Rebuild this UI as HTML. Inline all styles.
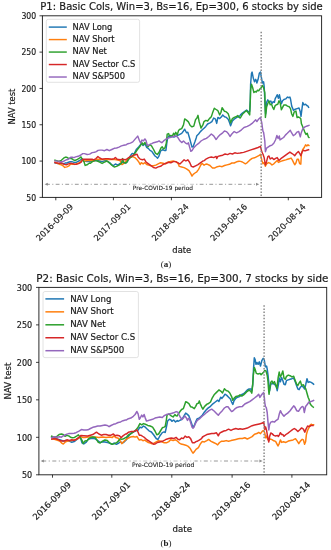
<!DOCTYPE html>
<html><head><meta charset="utf-8"><title>NAV test charts</title>
<style>
html,body{margin:0;padding:0;background:#fff;}
body{width:331px;height:550px;overflow:hidden;}
svg{display:block;}
svg text{font-family:'DejaVu Sans', 'Liberation Sans', sans-serif;fill:#1a1a1a;stroke:#1a1a1a;stroke-width:0.18px;}
</style></head><body>
<svg width="331" height="550" viewBox="0 0 331 550">
<rect width="331" height="550" fill="#fff"/>
<polyline points="55,163 58,163.6 61.7,163.6 64,163.8 65.2,163 66.9,163 68.5,162.2 70.1,161.7 71.8,161.6 74,162.4 76.2,162.4 79.8,160.5 82.2,158.7 84,161.1 87,161.5 90,161.6 93.6,161 97.3,160.4 99.7,161 102.1,161.6 105.7,160.4 108.1,161.6 110.5,163.4 113,165.8 115.4,164 117.8,165.2 120.2,163.4 122.6,162.2 125,163.4 127.5,161.6 128.5,158.8 130.4,155.8 132.2,153.4 134,154 136.5,149.2 138.9,146.8 141.3,143.7 143.1,145.5 144.9,143.7 146.7,147.4 148.5,148.6 150,150.4 151.8,151.3 153.6,154 155,156 156.4,157 157.6,158.2 158.8,156.4 160.6,151 162.4,149.8 164.3,150.4 165.9,150.4 166.8,143.1 167.7,137.7 169,135.9 170.4,136.8 171.8,136.3 173.9,137 176.9,135.8 179.3,134.6 181.7,133.4 183.5,131 184.7,129.2 186.5,132.8 187.8,132.2 189.6,138.2 190.8,142.8 192,147.1 193.2,146.5 195,141.6 196.2,138 196.8,135.8 198.6,134 200.4,131.6 202.3,129.8 204,128.2 205.8,126.4 207.6,124 210,122.8 211.9,121.6 213.7,118 215.5,119.2 216.7,123.4 217.9,117.4 219.7,118.6 221.5,116.8 222.7,114.9 224.5,116.8 226.4,117.4 228.2,119.2 229.4,122.2 230.6,125.8 232.4,121 234.2,119.2 236,118 237.8,116.8 239.6,116.1 240.5,114.9 242.4,113.1 244.8,111.3 246.6,110.1 248.5,111.9 249.7,111.3 250.3,100 250.6,84.2 251.5,73.3 252.1,72.1 253.3,78.1 254.5,81.8 255.7,79.3 256.9,83 258.1,79.3 259.3,73.3 260.5,72.1 261.5,78.1 262.4,83 263.6,81.8 264.2,86.6 264.8,100 265.3,110 265.6,114 266.6,102.3 267.8,99.8 269,102.3 270.8,101 272,103.5 273.2,101.6 274.4,102.3 275.2,98.6 276,97.1 277.2,94.7 278.4,98.3 279.4,94.7 280.2,98.3 281.4,103.7 282.6,100.7 283.9,99.5 285.7,98.9 287.5,97.1 288.7,97.7 289.9,97.1 290.5,98.9 291.7,106.1 293.5,110.4 295.3,109.2 297.1,108.6 299,108 300.2,111.6 301,116.4 302,108.6 302.8,102.5 304,104.9 305.6,104.3 306.8,105.5 308,106.1 308.6,107.4" fill="none" stroke="#1f77b4" stroke-width="1.45" stroke-linejoin="round" stroke-linecap="square"/>
<polyline points="55,162.4 59.3,164.2 61.5,164.8 63.1,165.8 64.7,167.4 66.9,166.9 69,165.8 70.7,163.9 72.5,164.3 76,164 79,163 82.8,160 84.6,161.1 87,160.5 90,160.4 93.6,161 97.3,159.2 100,159.5 105,159.3 110,159.5 115,159.5 120,160.5 122,164.6 123.8,163.4 126,161 128,159.1 130,157.5 132.8,156.6 135.3,157.9 137.1,159.7 138.9,162.1 140.1,164.5 141.3,162.7 143.1,163.9 144.9,162.7 146.7,164.5 148.5,165.1 151,165.7 153.4,165.7 155.8,165.1 158.2,163.9 160.6,162.7 163,163.3 165.5,163.9 166.5,162.8 169.6,161.6 173.3,161 175.7,161.6 178.1,163.4 179.3,166.4 181.7,167 184.1,167.6 186.5,168.8 189,170.6 190.8,173.6 192,176.1 193.2,174.3 195,173 196.8,171.8 198.6,169.4 199.8,167 201,164.6 202.3,163.4 204.1,165.2 206,164 207.6,164.3 210,165.5 212.5,167.9 214.9,167.9 217.3,166.7 219.7,166.1 222.1,166.7 224.5,165.5 227,164.9 229.4,164.3 231.8,163 234.2,163 236.6,161.8 239,161.2 240.5,161.4 242.4,162 245.4,163.8 247.3,162.6 249.7,160.2 252.1,158.4 254.5,157.8 256.9,156.6 259.3,155.4 260.5,154.2 261.8,160.2 263,163.8 264.2,162.6 265.4,166.3 266.6,163.8 268.4,162.6 270.2,163.2 272,165 273.8,163.8 275.6,162 277.2,160.5 278.4,162.4 279.6,161.8 281.4,161.1 283.3,160.5 285.7,159.9 287.5,159.3 289.3,158.7 291.1,158.1 292.3,159.9 293.5,162.4 294.7,164.8 295.9,163 297.1,159.3 298.4,159.3 299.6,163.6 300.8,164.2 301.4,154.5 302.6,149.7 304.4,147.3 305.6,144.8 306.8,146 308,144.8 308.9,145.4" fill="none" stroke="#ff7f0e" stroke-width="1.45" stroke-linejoin="round" stroke-linecap="square"/>
<polyline points="55,160.2 56.5,160.6 58.7,161.4 61.4,160.3 63.6,158.2 65.5,157.1 66.9,157.3 68.5,158.4 70.1,158.2 71.8,158.7 73.4,159.8 75,160.5 77.4,159.3 79.8,157.9 81,156.9 82.2,159.3 84,161.8 85.2,165.4 87,164.8 89.5,163 90.5,163.2 92.4,161.6 94.8,160.4 97.3,161 99.7,162.2 102.1,163.4 104.5,162.2 106.9,161 109.3,162.8 111.8,165.2 114.2,167 116.6,166.4 119,165.2 121.4,163.4 122.6,158.6 123.8,162.8 126.3,162.8 128,160 130.4,157.6 132.8,155.8 135.3,152.8 137.7,149.2 140.1,146.1 141.9,142.5 143.1,144.9 144.9,142.5 146.1,144.3 147.9,146.8 150,144.5 151.8,146.3 153.6,149.5 155.4,153.1 157.3,154.5 159.1,152.2 160.9,148.1 162.2,146.8 163.6,149 165,147.7 166.3,143.1 167.2,134.1 168.6,133.6 169.5,135.9 170.9,135.4 172.2,136.3 173.6,133.2 174.5,135.4 175.8,132.3 177.2,135 178.6,130.4 179.5,129.5 181.7,128.6 183.5,124.9 184.7,118.9 186.5,120.1 188.4,121.9 190.2,125.5 192,126.8 193.8,126.1 195.6,119.5 196.8,118.3 198,115.3 199.2,121.9 201,128 202.9,124.9 204,121.6 205.8,120.4 207.6,121 209.4,118.6 211.3,116.8 212.5,113.1 214.3,108.3 216.1,109.5 217.9,110.7 219.7,114.9 220.9,112.5 222.1,107.7 223.3,109.5 224.5,111.3 226.4,111.9 228.2,113.7 229.4,117.4 230.6,122.8 232.4,118.6 234.2,117.4 236,116.8 237.8,115.5 239,117.4 240.3,118 242.4,114.3 244.8,111.9 246.6,110.7 248.5,113.1 249.7,114.9 250.3,100 250.6,90.2 251.5,84.2 252.7,87.8 253.9,92.6 255.1,91.4 256.3,92 257.5,90.2 258.7,90.8 259.9,89 261.1,87.8 262.4,85.4 263.6,87.8 264.8,92.6 265.1,105 265.4,117.4 266.6,107.1 267.8,103.5 269,101 270.2,104.7 271.4,104.1 272.6,107.1 273.8,109.5 275,105.9 276.3,104.7 277.8,104.3 279,100.7 280.2,103.1 281.4,109.8 282.6,107.4 283.9,104.9 285.7,104.9 287.5,106.1 289.3,106.8 290.5,108.6 291.7,114 292.9,116.4 294.1,112.2 295.9,111 297.1,117.6 298.4,117 299.6,117.6 300.8,118.8 301.4,123.6 302.4,126 303.6,129.1 304.8,132.1 306,134.5 307.2,133.3 308.4,136.9 309,137.5" fill="none" stroke="#2ca02c" stroke-width="1.45" stroke-linejoin="round" stroke-linecap="square"/>
<polyline points="55,162.5 56,162.8 58.7,163.3 61.4,162.8 64.2,164.4 66.3,164.7 68.5,163.9 70.7,163.3 72.9,163.6 74.5,164.4 76.2,164.2 78.6,163.6 81,162.4 82.8,159.3 85.8,159.1 89.5,159.3 92,159.1 93.6,159.8 96,158.6 97.9,156.5 99.7,158 102.1,159.2 105.7,158.6 108.1,158.6 111.8,159.2 114.2,158.6 115.4,157.4 117.2,159.2 120.2,159.8 122.6,159.2 125,159.8 127.5,158.6 128.2,157.9 130.4,156.6 133.4,155.4 135.3,154.8 137.1,154.2 138.3,157.3 140.1,159.1 142.5,159.7 144.3,159.1 146.1,162.1 148.5,163.9 151,165.7 153.4,167.5 155.8,168.1 158.2,166.9 160.6,166.3 163,164.5 165.5,163.3 166.5,163.4 168.4,162.2 170.8,162.8 173.3,161.6 175.7,161.6 178.1,162.8 179.9,164 181.7,162.2 184.1,159.8 185.9,161 187.8,159.8 189.6,162.2 191.4,166.4 193.2,167 195.6,165.8 198,164.6 200.4,162.8 202.9,161 204.2,160.6 206.4,158.8 208.8,157.6 211.3,157 213.7,157.6 216.1,156.4 216.7,158.6 217.9,156.4 220.3,155.8 222.7,155.2 225.1,154 227.6,154.6 230,153.4 232.4,154 234.8,152.8 237.2,153.4 240,153 243.6,152.4 247.3,151.1 250.9,149.9 254.5,148.7 258.1,147.5 260.5,146.3 261.8,151.8 263,154.2 264.2,157.8 265.4,165 266.6,161.4 267.8,156.6 269,156 270.2,159 272,157.8 273.8,159.6 275.6,158.4 277.2,157.6 279,160.5 280.8,158.7 283.3,156.9 285.7,155.1 288.1,153.3 289.9,152.1 291.7,153.3 293.5,154.5 294.7,155.7 296.5,153.3 298.4,151.5 299.6,153.3 300.8,155.7 302,152.1 303.2,150.3 305,150.9 306.8,150.3 308.6,149.7" fill="none" stroke="#d62728" stroke-width="1.45" stroke-linejoin="round" stroke-linecap="square"/>
<polyline points="55,160.9 58.2,161.1 60.4,161.7 63.1,161.7 64.7,160.6 66.3,159.8 68,159.5 69.6,158.4 70.7,157.3 72.3,157.3 74,157.6 75.6,156.9 78.1,156.3 80.9,155 82.7,153.6 84.5,153.6 87.2,154.5 89.7,154.1 92.1,152.6 94.5,152.3 96.3,151.6 98.1,150.4 100,150.1 102.1,150.1 104.5,150.7 106.9,149.5 109.3,150.7 111.8,149.5 114.2,148.3 116.6,148 119,147.1 121.4,145.9 123.8,145.3 126.3,144.7 128,143.7 130.4,143.1 132.8,141.9 135.3,138.9 137.7,136.1 139.5,140.7 140.7,143.1 141.9,140.1 143.7,140.7 144.9,138.9 146.1,140.7 147.3,145.5 149.1,145 150.5,144 151.8,143.6 153.6,142.7 155.4,142.2 157.3,141.8 159.1,140.9 160.4,141.8 161.8,142.7 163.6,140.9 165.4,139.5 167.2,138.6 169,137.7 170.9,137.2 172.7,136.8 174.5,136.3 176.3,135.9 178.1,137.8 179.9,140.8 181.7,142.6 183.5,141 185.3,142.8 187.1,144 188.4,142.8 189.6,147.1 190.8,151.3 192,150.7 193.8,147.7 196.2,145.3 198.6,143.4 201,141 203.5,139.5 206.4,138.3 208.8,136.5 211.3,134 213.7,135.9 216.1,139.5 217.9,137.1 220.3,134.6 222.7,132.8 224.5,131 226.4,131.6 228.2,133.4 230,136.5 231.8,134 234.2,131.6 236.6,132.8 239,131.6 241.5,129.8 244,127.5 247.3,126.4 249.7,125.2 252.1,123.4 254.5,121 255.7,119.8 256.9,121.6 258.1,119.8 259.3,118.6 260.5,117.4 261.8,122.8 262.4,127.6 263,131.3 263.6,132.4 264.8,140.9 265.4,151.8 266.6,148.1 268.4,146.9 270.2,145.7 272,145.1 273.8,143.3 275.6,139.7 276.9,135.4 278.1,138.5 279.3,136 280,139.9 281.8,138.7 283.6,137.5 285.4,135.1 287.3,133.3 289.1,131.5 290.3,130.3 291.5,132.7 293.3,135.7 295.1,134.5 296.9,132.1 298.7,131.5 300.3,136.9 301.1,133.3 302.4,129.7 303.6,127.9 305.4,126.6 307.2,126 309,125.4" fill="none" stroke="#9467bd" stroke-width="1.45" stroke-linejoin="round" stroke-linecap="square"/>
<line x1="261.2" y1="31.85" x2="261.2" y2="197.4" stroke="#8a8a8a" stroke-width="1.5" stroke-dasharray="1.5 1.63"/>
<line x1="46.1" y1="184.3" x2="256.7" y2="184.3" stroke="#8c8c8c" stroke-width="0.9" stroke-dasharray="3.8 2.4 1 2.4"/>
<rect x="131.6" y="182.8" width="64.2" height="3" fill="#fff" fill-opacity="0.45"/>
<path d="M44.6 184.3L47.8 182.8L47.8 185.8Z" fill="#8c8c8c"/>
<path d="M259.2 184.3L256 182.8L256 185.8Z" fill="#8c8c8c"/>
<text x="162.9" y="189.9" font-size="5.85" text-anchor="middle" style="stroke-width:0.08px">Pre-COVID-19 period</text>
<rect x="46.3" y="19.3" width="93.3" height="63" rx="2" ry="2" fill="#fff" fill-opacity="0.85" stroke="#dadada" stroke-width="0.8"/>
<line x1="48.8" y1="27.1" x2="66.8" y2="27.1" stroke="#1f77b4" stroke-width="1.45"/>
<text x="72.5" y="29.5" font-size="8.33">NAV Long</text>
<line x1="48.8" y1="39.58" x2="66.8" y2="39.58" stroke="#ff7f0e" stroke-width="1.45"/>
<text x="72.5" y="41.98" font-size="8.33">NAV Short</text>
<line x1="48.8" y1="52.06" x2="66.8" y2="52.06" stroke="#2ca02c" stroke-width="1.45"/>
<text x="72.5" y="54.46" font-size="8.33">NAV Net</text>
<line x1="48.8" y1="64.54" x2="66.8" y2="64.54" stroke="#d62728" stroke-width="1.45"/>
<text x="72.5" y="66.94" font-size="8.33">NAV Sector C.S</text>
<line x1="48.8" y1="77.02" x2="66.8" y2="77.02" stroke="#9467bd" stroke-width="1.45"/>
<text x="72.5" y="79.42" font-size="8.33">NAV S&amp;P500</text>
<rect x="42.4" y="15.8" width="279.2" height="181.6" fill="none" stroke="#222" stroke-width="0.95"/>
<line x1="39.5" y1="197.4" x2="42.4" y2="197.4" stroke="#000" stroke-width="0.75"/>
<text transform="translate(36.2 200.73) scale(0.93 1)" font-size="8.33" text-anchor="end">50</text>
<line x1="39.5" y1="161.08" x2="42.4" y2="161.08" stroke="#000" stroke-width="0.75"/>
<text transform="translate(36.2 164.41) scale(0.93 1)" font-size="8.33" text-anchor="end">100</text>
<line x1="39.5" y1="124.76" x2="42.4" y2="124.76" stroke="#000" stroke-width="0.75"/>
<text transform="translate(36.2 128.09) scale(0.93 1)" font-size="8.33" text-anchor="end">150</text>
<line x1="39.5" y1="88.44" x2="42.4" y2="88.44" stroke="#000" stroke-width="0.75"/>
<text transform="translate(36.2 91.77) scale(0.93 1)" font-size="8.33" text-anchor="end">200</text>
<line x1="39.5" y1="52.12" x2="42.4" y2="52.12" stroke="#000" stroke-width="0.75"/>
<text transform="translate(36.2 55.45) scale(0.93 1)" font-size="8.33" text-anchor="end">250</text>
<line x1="39.5" y1="15.8" x2="42.4" y2="15.8" stroke="#000" stroke-width="0.75"/>
<text transform="translate(36.2 19.13) scale(0.93 1)" font-size="8.33" text-anchor="end">300</text>
<line x1="55.8" y1="197.4" x2="55.8" y2="200.3" stroke="#000" stroke-width="0.75"/>
<text transform="translate(54.5 222.2) rotate(-45)" x="0" y="3.03" font-size="8.33" text-anchor="middle">2016-09-09</text>
<line x1="113.4" y1="197.4" x2="113.4" y2="200.3" stroke="#000" stroke-width="0.75"/>
<text transform="translate(112.1 222.2) rotate(-45)" x="0" y="3.03" font-size="8.33" text-anchor="middle">2017-09-01</text>
<line x1="171.4" y1="197.4" x2="171.4" y2="200.3" stroke="#000" stroke-width="0.75"/>
<text transform="translate(170.1 222.2) rotate(-45)" x="0" y="3.03" font-size="8.33" text-anchor="middle">2018-08-24</text>
<line x1="229.9" y1="197.4" x2="229.9" y2="200.3" stroke="#000" stroke-width="0.75"/>
<text transform="translate(228.6 222.2) rotate(-45)" x="0" y="3.03" font-size="8.33" text-anchor="middle">2019-08-16</text>
<line x1="288.3" y1="197.4" x2="288.3" y2="200.3" stroke="#000" stroke-width="0.75"/>
<text transform="translate(287 222.2) rotate(-45)" x="0" y="3.03" font-size="8.33" text-anchor="middle">2020-08-14</text>
<text x="181.75" y="252.8" font-size="8.33" text-anchor="middle">date</text>
<text transform="translate(14.7 106.6) rotate(-90)" x="0" y="0" font-size="8.33" text-anchor="middle">NAV test</text>
<text x="181.5" y="10.1" font-size="10" text-anchor="middle">P1: Basic Cols, Win=3, Bs=16, Ep=300, 6 stocks by side</text>
<text x="166" y="266.6" font-size="9" text-anchor="middle" style="font-family:'Liberation Serif', 'DejaVu Serif', serif;stroke:none">(<tspan font-weight="bold">a</tspan>)</text>
<polyline points="51.8,438.6 56,438.6 59.7,439.8 63.3,441 65.7,440.4 69.3,441 71.8,442.2 74.2,441.6 77.8,438.6 80.2,436.8 82,442.8 83.8,444 86.3,442.2 88,439.4 91.6,438.2 95.3,438.8 97.7,440.6 100.1,442.4 103.7,441.8 107.3,442.4 110.4,443.6 112.2,444.3 114,443 116.4,444.3 118.8,443 120.6,441.8 122.4,443 124.3,441.8 126.1,440 128.4,436.3 130.8,433.2 133.3,432 135.7,430.8 138.1,430.2 139.9,427.2 141.7,427.8 143.5,426 145.3,427.2 147.1,429 149,430.8 151.4,432 153.8,435 156.2,438.5 158,439.5 159.8,436 162.3,432.6 164,431.9 165.2,432.5 166.4,427.1 167.6,421 169.4,419.2 170.5,419.6 171.9,421.3 173.7,420 175.5,421.9 177.3,420.6 178,421.3 179.8,420.4 181.6,419.5 183,417.7 184.3,415.4 185.7,413.1 187.1,414.1 188.9,415.9 190.2,419.5 191.6,423.6 192.5,426.3 193.4,427.2 194.3,425.4 195.7,421.8 197,419 198.9,418.1 200.7,416.8 202.5,415 204.3,412.2 206.1,410 208,408.1 210.5,406.3 212.9,403.8 215.3,402 217.7,400.2 218.9,401.4 220.7,397.2 221.9,398.4 223.8,396 225,394.2 226.8,395.4 228.6,397.2 230.4,399 231.6,402 232.8,404.4 234,400.8 235.8,398.4 237.6,397.2 239.5,396.6 241.8,394.5 243.6,393.7 245.4,392 247.3,390 249.1,389 250.9,388.9 251.8,391 252.7,384.7 253,380 253.5,369.2 254.3,357.7 255.1,359.5 256,364.3 256.9,362.5 258.1,364.3 259.3,361.9 260.5,366.1 261.8,360.7 263.2,358.3 264.2,359.5 265.4,366.8 266.6,366.1 267.2,369.2 268,375.2 269,385 269.6,390.7 270.8,384.1 272.6,383.5 274.4,384.1 276.3,386.5 277.2,390.7 278.4,384.7 279.2,378.1 280.4,381.8 281.6,377.5 282.8,380.5 284,384.2 285.3,384.8 286.5,380.5 288.3,379.9 290.1,379.3 291.9,378.7 293.1,378.1 294.3,379.3 295.5,382.4 296.7,386 297.9,389 299.1,389.6 300.4,387.2 301.6,386 303.4,387.2 304.6,389 305.8,384.2 307,378.7 308.2,382.4 309.4,381.8 311.2,382.4 313,383.6 313.6,384.2" fill="none" stroke="#1f77b4" stroke-width="1.5" stroke-linejoin="round" stroke-linecap="square"/>
<polyline points="51.8,438.6 56,439.8 59.7,441 62.1,443.4 63.3,444 65.1,442.2 67.5,441 72,440.5 76,439.5 79,438 80.8,436.8 82.6,437.4 85,437.4 88,437 91.6,437 95.3,437 98.9,437.6 102.5,437 106.1,437.6 109.8,437 112.2,437.6 114,435.8 115.8,437.6 118.2,438.2 120,440.6 121.8,443.6 123.6,441.8 125.5,440 128,438.2 130.5,437 133.3,436.5 135.1,437.1 136.9,436.5 138.1,438.3 139.3,440.1 141.1,439.5 142.9,440.7 144.7,440.1 146.5,441.3 148.4,442.5 150.2,443.1 152,443.7 153.8,443.1 156.2,441.9 158.6,440.7 161,441.3 163.5,442.5 164.5,442.8 166.4,442.8 168.8,441.6 170.6,439.8 173.1,440.4 175.5,439.8 177.3,441 179.1,442.8 180.9,444 183.3,444.6 185.8,445.2 188.2,446.4 190,448.2 191.8,451.3 193,453.1 194.2,451.9 196,449.4 198.4,447.6 200.3,444 202.1,441.6 204.4,441.9 206.8,440.6 208.6,439.4 211.1,441.3 213.5,442.5 215.9,443.7 217.7,444.9 219.5,442.5 221.3,441.3 223.8,441.3 226.2,440.6 228.6,441.3 231,440.6 233.4,440 235.8,439.4 238.3,438.8 240,438.4 242.4,438.4 244.8,437.8 247.3,439 249.7,437.8 252.1,436.6 254.5,434.2 256.9,433.6 258.7,432.4 260.5,433.6 262.4,431.1 263.6,430.5 264.8,433 265.6,437.8 266.6,436 267.8,439.6 269,440.2 270.2,439 272,439.6 273.8,440.8 275.6,441.4 276.9,443.8 278,446 279.2,443.6 280.4,439.9 281.6,442.4 283.4,441.8 285.9,442.4 288.3,441.1 290.7,440.5 293.1,439.9 295.5,438.7 297.3,441.1 298.8,443.6 300.4,441.1 302.2,439.3 303.4,439.9 304.6,444.2 305.6,441.8 306.4,434.5 307.6,430.3 308.8,427.9 310,425.4 311.2,424.2 312.4,424.8 313.6,424.8" fill="none" stroke="#ff7f0e" stroke-width="1.5" stroke-linejoin="round" stroke-linecap="square"/>
<polyline points="51.6,436.3 53.3,436.8 55.1,437.2 56.9,436.3 59.1,434.5 61.4,434.1 63.2,434.5 65,436.3 66.9,435.4 68.7,435.9 70.5,437.2 72.3,437.7 74.5,437.4 76.6,436.1 78.4,434.9 80.2,437.4 82,440.4 83.2,443.4 85,441 87.5,440.4 88.5,438.8 90.4,437.6 92.8,437 95.3,437.6 96.5,439.4 98.3,442.4 100.1,443 102.5,441.2 104.9,440 107.3,440.6 109.8,443 112.2,444.3 114.6,443.6 117,442.4 118.8,440.6 120,438.8 121.8,439.4 123.6,438.8 125.5,437.6 126.5,437.3 128.4,435 130.8,433.8 133.3,432 135.7,430.2 138.1,427.2 139.9,423.6 141.7,424.8 143.5,423.6 145.3,424.2 147.8,425.4 150.2,426 152.6,427.2 155,431 156.8,434.8 158.6,434 160.4,431 162.3,427.8 164,427.1 165.2,426.5 166.4,419.8 167,415.2 168.8,414 171.3,415.8 173.1,417 174.9,414.6 176.1,415.8 177.2,416 178,414.5 179.8,411.8 181.6,409.5 183.4,408.6 184.8,404.5 185.7,401.8 187.1,402.3 188.9,403.6 190.7,406.8 192.5,407.3 194.3,408.6 195.7,406.3 197,403.6 198.4,403.2 199.3,400.9 200.2,403.6 201.6,406.8 202.9,409.1 204.3,406.8 205.7,405.4 207,404.1 208,403.8 210.5,402 212.3,397.8 214.1,394.8 216.5,392.4 218.9,389.9 220.7,391.1 222.5,393 224.4,388.7 226.2,390.5 228,391.1 229.8,393 231.6,396.6 232.8,400.2 234,398.4 235.8,396.6 238.3,396 240,394.8 241.8,396.1 243.6,394.9 245.4,393.1 247.3,391.3 249.1,390.1 250.9,391.3 251.8,393.1 252.7,384.7 253.3,375 253.5,374 254.3,367.4 255.1,369.2 256.3,373.4 258.1,374 259.9,373.4 261.1,374.6 262.4,373.4 263.6,372.2 264.8,370.4 266,371 267.2,375.2 268,381.3 268.4,387.1 269,394.3 270,387.1 270.8,382.3 272,381 273.2,383.5 274.4,381.6 275.6,384.7 276.9,388.3 278.1,378 279.2,372.1 280.4,376.9 281.6,374.5 282.8,370.9 284,378.1 285.3,379.3 286.5,376.3 288.3,375.1 290.1,375.7 291.9,376.9 293.7,376.3 294.9,379.9 296.7,384.2 297.9,385.4 299.1,383 300.4,381.1 301.6,385.4 303.4,384.8 304.6,387.2 305.8,389 307,393.2 308.2,397.5 309.2,399.8 310,403.5 311.2,405.3 312.4,406.5 313.3,407.1" fill="none" stroke="#2ca02c" stroke-width="1.5" stroke-linejoin="round" stroke-linecap="square"/>
<polyline points="51.8,439.2 54.8,438.6 57.3,439.2 59.7,440.4 62.1,441 64.5,441 66.9,439.8 69.3,440.4 71.8,439.8 74.2,440.4 76.6,439.2 79,437.4 80.8,435.5 83.8,435.8 87.5,436.1 88.5,435.8 90.4,435.2 92.8,434.6 94.6,433.4 96.5,432.2 98.9,434 101.3,435.2 103.7,434.6 106.1,434.6 108.5,435.2 111,435.2 113.4,434 115.2,435.8 117,435.2 119.4,435.8 121.2,437.6 123,435.8 125.5,434 126.2,434.1 128.4,432.3 130.8,431.6 133.3,431.6 135.1,431 136.9,429.8 138.1,432.3 139.3,435.3 141.1,435.3 142.9,436.5 144.7,437.7 146.5,439.5 148.4,440.7 150.2,441.9 152,443.1 153.8,444.3 155.6,443.7 157.4,442.5 159.8,441.9 162.3,441.3 164.7,440.1 166.4,439.2 168.8,438.6 171.3,438 173.7,438.6 176.1,437.4 177.9,439.2 179.7,439.8 181.5,438 183.3,438.6 185.1,436.1 187,437.4 188.8,436.8 190.6,438.6 192.4,442.8 194.2,442.8 196,441.6 197.8,441 199.6,439.8 201.5,438.6 202.5,437 204.4,435.8 206.8,434.6 209.3,434 211.7,433.4 214.1,433.4 216.5,432.8 218.3,435.8 219.5,433.4 221.3,432.2 223.8,431 226.2,430.4 228.6,429.2 231,430.4 233.4,429.2 235.8,428.6 238.3,429.2 240,428.7 242.4,429.3 244.8,428.7 247.3,428.1 249.7,426.9 252.1,425.7 254.5,425.1 256.9,424.5 259.3,423.9 261.8,423.3 263.6,422.1 264.2,424.5 264.8,429.3 265.6,426.9 266.6,430.5 267.8,437.8 268.8,442 269.6,436.6 270.8,433 272,433.6 273.8,435.4 275.6,436 277.5,435.4 278.3,436.5 279.2,435.1 280.4,432.7 281.6,434.5 282.8,434.5 284,436.3 285.9,434.5 287.7,433.3 290.1,431.5 292.5,429.7 294.3,428.5 296.1,429.7 297.9,431.5 299.8,429.7 301.6,427.9 303.4,429.1 304.8,432.1 306,429.1 307.6,426 309.4,426.6 311.2,425.4 313,425.4" fill="none" stroke="#d62728" stroke-width="1.5" stroke-linejoin="round" stroke-linecap="square"/>
<polyline points="51.6,437.7 54.2,436.8 56.9,437.2 59.6,436.8 61.4,437.2 63.2,435.9 65,435 66.9,434.1 68.7,433.6 71.4,433.6 74.1,433.2 76,432.7 79,431.2 81.4,429.6 83.8,430.1 86.3,430.1 88,429.8 90.4,428.5 92.8,427.3 95.3,426.7 97.7,426.1 100.1,426.1 102.5,425.5 104.9,424.9 107.3,425.5 109.1,426.7 111,425.5 113.4,424.3 115.8,423.7 118.2,422.5 120.6,421.9 123,420.7 125.5,420.1 126.5,419.9 128.4,418.7 130.8,418.1 133.3,416.3 135.1,414.5 136.9,411.5 138.1,413.9 139.3,419.3 140.5,417.5 141.7,415.1 142.9,416.9 144.1,414.5 145.3,418.1 146.5,421.1 148.4,420.5 150.2,419.9 152.6,419.3 155,418.1 157.4,417.5 159.8,416.9 162.3,417.5 164.1,415.7 166.4,414.6 168.8,414 171.3,413.4 173.7,412.8 176.1,411.6 178,412.2 178.9,414.5 180.3,417.2 182.1,419.5 183.4,418.1 184.8,415.9 186.2,417.7 187.5,420.4 188.4,418.6 189.3,418.6 190.7,422.7 192.1,427.2 193,428.1 193.9,427.2 195.2,424 196.6,421.3 197.9,419.9 199.8,418.6 201.1,417.2 202.5,415.9 203.8,415 205.2,413.8 206.8,412.3 209.3,410.4 211.7,409.2 214.1,411 216.5,413.5 218.3,415.3 220.1,412.9 222.5,410.4 224.4,408 226.2,406.8 228,406.8 229.8,409.2 231.6,411.6 232.8,411 234.6,409.2 237,407.4 239.5,406.8 242.4,406.4 244.8,404 247.3,402.8 249.7,401.6 252.1,399.8 254.5,398 256.9,396.1 258.7,394.3 259.9,397.4 261.1,395.5 262.4,393.7 263.6,392.5 264.2,396.1 264.8,402.8 265.4,406.4 266.3,407.6 267.2,412.5 268,422.1 268.8,429.9 269.6,424.5 270.8,422.1 272.6,421.5 274.4,422.1 276.3,420.3 278.1,419.1 279.2,414.3 280.4,410.7 281.6,413.1 282.8,414.9 284,416.1 285.9,414.3 287.7,413.1 290.1,410.7 291.9,408.3 293.7,405.9 294.9,407.1 296.7,410.7 298.5,411.3 300.4,408.3 302.2,406.5 303.4,407.1 304.3,412.5 305.6,406.5 307,404.7 308.8,402.3 310.6,401.6 312.4,401 313.6,400.4" fill="none" stroke="#9467bd" stroke-width="1.5" stroke-linejoin="round" stroke-linecap="square"/>
<line x1="264.1" y1="305.3" x2="264.1" y2="474.8" stroke="#8a8a8a" stroke-width="1.5" stroke-dasharray="1.5 1.63"/>
<line x1="42.2" y1="461" x2="260.1" y2="461" stroke="#8c8c8c" stroke-width="0.9" stroke-dasharray="4 2.5 1.1 2.5"/>
<rect x="131" y="459.5" width="64" height="3" fill="#fff" fill-opacity="0.45"/>
<path d="M40.7 461L43.9 459.5L43.9 462.5Z" fill="#8c8c8c"/>
<path d="M262.6 461L259.4 459.5L259.4 462.5Z" fill="#8c8c8c"/>
<text x="163.2" y="466.6" font-size="6.05" text-anchor="middle" style="stroke-width:0.08px">Pre-COVID-19 period</text>
<rect x="43" y="291.5" width="95.4" height="66.1" rx="2" ry="2" fill="#fff" fill-opacity="0.85" stroke="#dadada" stroke-width="0.8"/>
<line x1="45.4" y1="298.9" x2="64.1" y2="298.9" stroke="#1f77b4" stroke-width="1.5"/>
<text x="70.2" y="301.5" font-size="8.6">NAV Long</text>
<line x1="45.4" y1="311.85" x2="64.1" y2="311.85" stroke="#ff7f0e" stroke-width="1.5"/>
<text x="70.2" y="314.45" font-size="8.6">NAV Short</text>
<line x1="45.4" y1="324.8" x2="64.1" y2="324.8" stroke="#2ca02c" stroke-width="1.5"/>
<text x="70.2" y="327.4" font-size="8.6">NAV Net</text>
<line x1="45.4" y1="337.75" x2="64.1" y2="337.75" stroke="#d62728" stroke-width="1.5"/>
<text x="70.2" y="340.35" font-size="8.6">NAV Sector C.S</text>
<line x1="45.4" y1="350.7" x2="64.1" y2="350.7" stroke="#9467bd" stroke-width="1.5"/>
<text x="70.2" y="353.3" font-size="8.6">NAV S&amp;P500</text>
<rect x="38.9" y="287.4" width="287.8" height="187.4" fill="none" stroke="#222" stroke-width="0.95"/>
<line x1="36" y1="474.8" x2="38.9" y2="474.8" stroke="#000" stroke-width="0.75"/>
<text transform="translate(32.2 478.23) scale(0.94 1)" font-size="8.6" text-anchor="end">50</text>
<line x1="36" y1="437.32" x2="38.9" y2="437.32" stroke="#000" stroke-width="0.75"/>
<text transform="translate(32.2 440.75) scale(0.94 1)" font-size="8.6" text-anchor="end">100</text>
<line x1="36" y1="399.84" x2="38.9" y2="399.84" stroke="#000" stroke-width="0.75"/>
<text transform="translate(32.2 403.27) scale(0.94 1)" font-size="8.6" text-anchor="end">150</text>
<line x1="36" y1="362.36" x2="38.9" y2="362.36" stroke="#000" stroke-width="0.75"/>
<text transform="translate(32.2 365.79) scale(0.94 1)" font-size="8.6" text-anchor="end">200</text>
<line x1="36" y1="324.88" x2="38.9" y2="324.88" stroke="#000" stroke-width="0.75"/>
<text transform="translate(32.2 328.31) scale(0.94 1)" font-size="8.6" text-anchor="end">250</text>
<line x1="36" y1="287.4" x2="38.9" y2="287.4" stroke="#000" stroke-width="0.75"/>
<text transform="translate(32.2 290.83) scale(0.94 1)" font-size="8.6" text-anchor="end">300</text>
<line x1="52.5" y1="474.8" x2="52.5" y2="477.7" stroke="#000" stroke-width="0.75"/>
<text transform="translate(51.7 500.7) rotate(-45)" x="0" y="3.13" font-size="8.6" text-anchor="middle">2016-09-09</text>
<line x1="111.8" y1="474.8" x2="111.8" y2="477.7" stroke="#000" stroke-width="0.75"/>
<text transform="translate(111 500.7) rotate(-45)" x="0" y="3.13" font-size="8.6" text-anchor="middle">2017-09-01</text>
<line x1="171.8" y1="474.8" x2="171.8" y2="477.7" stroke="#000" stroke-width="0.75"/>
<text transform="translate(171 500.7) rotate(-45)" x="0" y="3.13" font-size="8.6" text-anchor="middle">2018-08-24</text>
<line x1="232.1" y1="474.8" x2="232.1" y2="477.7" stroke="#000" stroke-width="0.75"/>
<text transform="translate(231.3 500.7) rotate(-45)" x="0" y="3.13" font-size="8.6" text-anchor="middle">2019-08-16</text>
<line x1="291.9" y1="474.8" x2="291.9" y2="477.7" stroke="#000" stroke-width="0.75"/>
<text transform="translate(291.1 500.7) rotate(-45)" x="0" y="3.13" font-size="8.6" text-anchor="middle">2020-08-14</text>
<text x="182.25" y="531.9" font-size="8.6" text-anchor="middle">date</text>
<text transform="translate(10.9 381.1) rotate(-90)" x="0" y="0" font-size="8.6" text-anchor="middle">NAV test</text>
<text x="182.4" y="281.7" font-size="10.35" text-anchor="middle">P2: Basic Cols, Win=3, Bs=16, Ep=300, 7 stocks by side</text>
<text x="166" y="546" font-size="9" text-anchor="middle" style="font-family:'Liberation Serif', 'DejaVu Serif', serif;stroke:none">(<tspan font-weight="bold">b</tspan>)</text>
</svg>
</body></html>
